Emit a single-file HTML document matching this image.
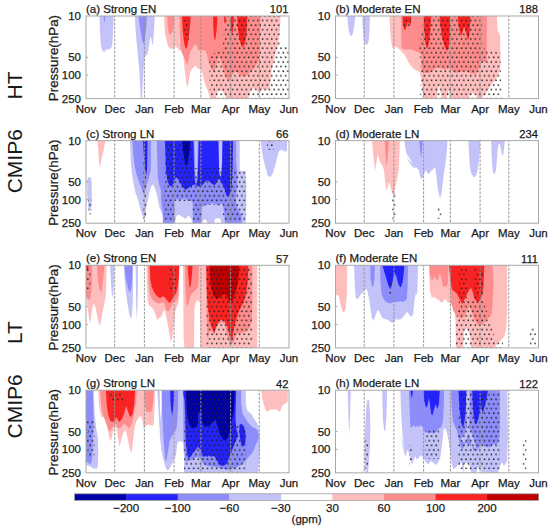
<!DOCTYPE html><html><head><meta charset="utf-8"><style>html,body{margin:0;padding:0;background:#fff;}svg{display:block}</style></head><body>
<svg width="550" height="530" viewBox="0 0 550 530" font-family="Liberation Sans, sans-serif">
<defs>
<clipPath id="cp0"><rect x="86.0" y="16.0" width="203.0" height="82.6"/></clipPath>
<pattern id="dots0" x="88.95" y="14.85" width="4.6" height="9.2" patternUnits="userSpaceOnUse"><circle cx="1.15" cy="1.15" r="0.85" fill="#222"/><circle cx="3.45" cy="5.75" r="0.85" fill="#222"/></pattern>
<clipPath id="cp1"><rect x="335.5" y="16.0" width="203.0" height="82.6"/></clipPath>
<pattern id="dots1" x="338.45" y="14.85" width="4.6" height="9.2" patternUnits="userSpaceOnUse"><circle cx="1.15" cy="1.15" r="0.85" fill="#222"/><circle cx="3.45" cy="5.75" r="0.85" fill="#222"/></pattern>
<clipPath id="cp2"><rect x="86.0" y="140.6" width="203.0" height="82.6"/></clipPath>
<pattern id="dots2" x="88.95" y="139.45" width="4.6" height="9.2" patternUnits="userSpaceOnUse"><circle cx="1.15" cy="1.15" r="0.85" fill="#222"/><circle cx="3.45" cy="5.75" r="0.85" fill="#222"/></pattern>
<clipPath id="cp3"><rect x="335.5" y="140.6" width="203.0" height="82.6"/></clipPath>
<pattern id="dots3" x="338.45" y="139.45" width="4.6" height="9.2" patternUnits="userSpaceOnUse"><circle cx="1.15" cy="1.15" r="0.85" fill="#222"/><circle cx="3.45" cy="5.75" r="0.85" fill="#222"/></pattern>
<clipPath id="cp4"><rect x="86.0" y="265.3" width="203.0" height="82.6"/></clipPath>
<pattern id="dots4" x="88.95" y="264.15" width="4.6" height="9.2" patternUnits="userSpaceOnUse"><circle cx="1.15" cy="1.15" r="0.85" fill="#222"/><circle cx="3.45" cy="5.75" r="0.85" fill="#222"/></pattern>
<clipPath id="cp5"><rect x="335.5" y="265.3" width="203.0" height="82.6"/></clipPath>
<pattern id="dots5" x="338.45" y="264.15" width="4.6" height="9.2" patternUnits="userSpaceOnUse"><circle cx="1.15" cy="1.15" r="0.85" fill="#222"/><circle cx="3.45" cy="5.75" r="0.85" fill="#222"/></pattern>
<clipPath id="cp6"><rect x="86.0" y="390.2" width="203.0" height="82.6"/></clipPath>
<pattern id="dots6" x="88.95" y="389.05" width="4.6" height="9.2" patternUnits="userSpaceOnUse"><circle cx="1.15" cy="1.15" r="0.85" fill="#222"/><circle cx="3.45" cy="5.75" r="0.85" fill="#222"/></pattern>
<clipPath id="cp7"><rect x="335.5" y="390.2" width="203.0" height="82.6"/></clipPath>
<pattern id="dots7" x="338.45" y="389.05" width="4.6" height="9.2" patternUnits="userSpaceOnUse"><circle cx="1.15" cy="1.15" r="0.85" fill="#222"/><circle cx="3.45" cy="5.75" r="0.85" fill="#222"/></pattern>
</defs>
<rect width="550" height="530" fill="#fff"/>
<g clip-path="url(#cp0)">
<path d="M99.4,14.0 L99.4,15.9 L99.9,30.2 L100.6,41.6 L101.5,48.1 L103.1,51.3 L104.3,52.6 L105.1,50.5 L106.7,49.4 L110.0,48.9 L111.6,47.3 L112.4,43.2 L112.9,33.5 L113.5,23.7 L113.7,15.9 L113.7,14.0Z" fill="#c3c3fa"/>
<path d="M103.5,14.0 L104.0,21.3 L104.4,22.4 L104.9,20.5 L105.3,14.0Z" fill="#8c8cfa"/>
<path d="M134.6,14.0 L135.6,30.2 L136.7,43.2 L138.0,56.2 L139.2,69.2 L140.0,82.2 L140.5,91.9 L140.8,101.6 L142.1,101.6 L142.4,90.3 L142.9,78.9 L143.7,67.5 L144.4,57.8 L145.7,55.4 L147.3,54.6 L148.1,51.3 L148.9,46.5 L149.7,40.0 L150.5,36.7 L151.3,38.3 L152.2,44.0 L153.0,44.8 L153.8,33.5 L154.6,20.5 L154.8,14.0Z" fill="#c3c3fa"/>
<path d="M138.4,14.0 L139.5,23.7 L140.8,31.8 L142.1,40.0 L143.2,44.0 L144.4,42.4 L145.3,35.1 L146.2,27.0 L147.0,14.0Z" fill="#8c8cfa"/>
<path d="M164.1,10.0 L280.6,10.0 L280.6,16.0 L279.9,30.2 L278.3,43.2 L276.7,48.9 L274.9,56.2 L273.3,62.7 L271.8,69.2 L270.8,75.7 L270.2,82.2 L269.5,87.9 L267.9,90.3 L264.3,89.0 L261.4,90.3 L259.8,92.7 L257.8,91.0 L255.0,88.5 L252.0,89.0 L249.7,93.0 L248.0,100.0 L226.0,100.0 L225.0,95.0 L222.0,91.0 L219.0,90.4 L217.0,93.0 L216.0,100.0 L211.0,100.0 L209.5,95.8 L207.3,89.3 L205.6,86.0 L204.0,80.5 L202.9,75.1 L201.8,70.7 L200.2,69.6 L197.5,68.5 L195.3,65.3 L193.1,68.0 L191.5,69.6 L190.4,71.8 L189.3,77.3 L188.2,84.9 L187.1,87.1 L186.0,80.5 L184.9,71.8 L183.8,60.9 L182.7,50.0 L179.2,50.5 L177.0,47.3 L175.4,46.5 L173.8,47.3 L172.2,48.9 L169.7,48.4 L167.8,45.6 L166.5,40.0 L165.2,35.1 L164.5,27.0 L164.1,16.0Z" fill="#ffbebe"/>
<path d="M167.3,10.0 L167.3,16.0 L167.6,27.0 L168.9,33.5 L170.1,35.1 L171.4,33.5 L173.0,30.2 L174.0,23.7 L174.3,10.0Z" fill="#ff8c8c"/>
<path d="M179.5,10.0 L261.1,10.0 L260.6,16.0 L260.3,30.2 L259.5,54.6 L260.0,55.0 L259.8,57.5 L258.5,61.4 L256.0,65.2 L253.5,69.0 L250.9,71.5 L248.4,74.1 L245.8,76.0 L243.3,76.6 L240.7,75.4 L238.2,72.8 L235.6,71.5 L233.7,72.8 L231.8,75.4 L230.5,78.5 L228.6,79.8 L226.7,78.5 L224.8,74.1 L222.9,67.7 L221.0,61.4 L219.7,57.5 L218.5,58.8 L217.2,62.6 L215.3,69.0 L213.4,71.5 L211.5,69.0 L208.9,62.6 L207.0,55.0 L205.1,50.0 L199.8,50.5 L198.1,49.7 L197.0,46.5 L195.7,44.0 L194.1,45.6 L191.6,48.9 L190.0,53.0 L188.4,61.1 L187.3,65.1 L186.0,62.7 L184.3,57.8 L181.9,53.0 L180.3,46.5 L179.8,30.2 L179.5,16.0Z" fill="#ff8c8c"/>
<path d="M181.9,10.0 L182.4,27.0 L183.5,38.3 L184.7,45.6 L186.0,48.9 L187.3,46.5 L188.4,40.0 L189.5,30.2 L190.5,20.5 L190.8,10.0Z" fill="#fa2323"/>
<path d="M213.0,10.0 L213.3,27.0 L214.0,36.7 L214.6,40.8 L215.6,38.3 L216.6,30.2 L217.2,22.1 L217.5,10.0Z" fill="#fa2323"/>
<path d="M223.5,10.0 L224.3,22.9 L225.2,23.7 L225.6,20.5 L226.0,10.0Z" fill="#fa2323"/>
<path d="M230.0,10.0 L230.8,27.0 L231.8,35.1 L232.8,31.9 L233.6,23.7 L234.1,10.0Z" fill="#fa2323"/>
<path d="M237.0,10.0 L237.7,27.0 L239.0,36.7 L240.6,43.2 L242.5,47.3 L243.2,47.0 L244.9,43.2 L246.2,36.7 L246.8,27.0 L247.5,10.0Z" fill="#fa2323"/>
<path d="M226.0,16.0 L280.0,16.0 L280.0,45.0 L289.0,45.0 L289.0,99.0 L210.0,99.0 L209.0,55.0 L222.0,50.0Z" fill="url(#dots0)"/>
<path d="M183.0,20.0 L189.0,20.0 L189.0,40.0 L185.0,40.0Z" fill="url(#dots0)"/>
</g>
<line x1="114.7" y1="16.0" x2="114.7" y2="98.6" stroke="#959595" stroke-width="1" stroke-dasharray="2.6,1.4" stroke-dashoffset="1.2"/>
<line x1="144.4" y1="16.0" x2="144.4" y2="98.6" stroke="#959595" stroke-width="1" stroke-dasharray="2.6,1.4" stroke-dashoffset="1.2"/>
<line x1="174.1" y1="16.0" x2="174.1" y2="98.6" stroke="#959595" stroke-width="1" stroke-dasharray="2.6,1.4" stroke-dashoffset="1.2"/>
<line x1="200.9" y1="16.0" x2="200.9" y2="98.6" stroke="#959595" stroke-width="1" stroke-dasharray="2.6,1.4" stroke-dashoffset="1.2"/>
<line x1="230.6" y1="16.0" x2="230.6" y2="98.6" stroke="#959595" stroke-width="1" stroke-dasharray="2.6,1.4" stroke-dashoffset="1.2"/>
<line x1="259.3" y1="16.0" x2="259.3" y2="98.6" stroke="#959595" stroke-width="1" stroke-dasharray="2.6,1.4" stroke-dashoffset="1.2"/>
<rect x="86.0" y="16.0" width="203.0" height="82.6" fill="none" stroke="#a8a8a8" stroke-width="1"/>
<text x="81.0" y="20.1" font-size="11.5" text-anchor="end" fill="#1a1a1a" stroke="#1a1a1a" stroke-width="0.25">10</text>
<text x="81.0" y="61.4" font-size="11.5" text-anchor="end" fill="#1a1a1a" stroke="#1a1a1a" stroke-width="0.25">50</text>
<line x1="86.0" y1="57.3" x2="88.0" y2="57.3" stroke="#a8a8a8"/>
<text x="81.0" y="79.2" font-size="11.5" text-anchor="end" fill="#1a1a1a" stroke="#1a1a1a" stroke-width="0.25">100</text>
<line x1="86.0" y1="75.1" x2="88.0" y2="75.1" stroke="#a8a8a8"/>
<text x="81.0" y="102.7" font-size="11.5" text-anchor="end" fill="#1a1a1a" stroke="#1a1a1a" stroke-width="0.25">250</text>
<text x="86.0" y="112.6" font-size="11.5" text-anchor="middle" fill="#1a1a1a" stroke="#1a1a1a" stroke-width="0.25">Nov</text>
<text x="114.7" y="112.6" font-size="11.5" text-anchor="middle" fill="#1a1a1a" stroke="#1a1a1a" stroke-width="0.25">Dec</text>
<text x="144.4" y="112.6" font-size="11.5" text-anchor="middle" fill="#1a1a1a" stroke="#1a1a1a" stroke-width="0.25">Jan</text>
<text x="174.1" y="112.6" font-size="11.5" text-anchor="middle" fill="#1a1a1a" stroke="#1a1a1a" stroke-width="0.25">Feb</text>
<text x="200.9" y="112.6" font-size="11.5" text-anchor="middle" fill="#1a1a1a" stroke="#1a1a1a" stroke-width="0.25">Mar</text>
<text x="230.6" y="112.6" font-size="11.5" text-anchor="middle" fill="#1a1a1a" stroke="#1a1a1a" stroke-width="0.25">Apr</text>
<text x="259.3" y="112.6" font-size="11.5" text-anchor="middle" fill="#1a1a1a" stroke="#1a1a1a" stroke-width="0.25">May</text>
<text x="289.0" y="112.6" font-size="11.5" text-anchor="middle" fill="#1a1a1a" stroke="#1a1a1a" stroke-width="0.25">Jun</text>
<text x="0" y="0" transform="translate(58.4,58.1) rotate(-90)" font-size="13.4" text-anchor="middle" fill="#1a1a1a" stroke="#1a1a1a" stroke-width="0.25">Pressure(hPa)</text>
<text x="86.0" y="13.0" font-size="11.5" fill="#1a1a1a" stroke="#1a1a1a" stroke-width="0.25">(a) Strong EN</text>
<text x="288.5" y="13.4" font-size="11.2" text-anchor="end" fill="#1a1a1a" stroke="#1a1a1a" stroke-width="0.25">101</text>
<g clip-path="url(#cp1)">
<path d="M347.3,14.0 L347.3,15.9 L347.9,23.7 L348.9,31.8 L350.0,35.1 L351.7,35.9 L352.8,33.5 L353.8,28.6 L354.6,22.1 L355.4,15.9 L355.4,14.0Z" fill="#c3c3fa"/>
<path d="M362.2,14.0 L362.7,27.0 L363.5,36.7 L364.6,43.2 L366.3,44.8 L367.9,44.0 L369.0,38.3 L369.5,28.6 L370.0,14.0Z" fill="#c3c3fa"/>
<path d="M389.0,10.0 L496.8,10.0 L496.8,16.0 L497.6,30.2 L500.0,35.0 L500.5,56.0 L500.7,63.0 L500.0,69.6 L498.0,75.0 L495.4,80.2 L492.7,82.8 L490.0,86.8 L487.5,90.8 L484.8,94.7 L482.2,97.4 L479.0,100.0 L477.0,100.0 L476.0,94.0 L473.0,93.0 L470.0,94.0 L469.0,100.0 L450.2,100.0 L448.5,90.3 L446.0,100.0 L442.0,100.0 L439.2,84.5 L436.3,100.0 L423.6,100.0 L422.6,90.3 L421.5,78.9 L419.9,72.4 L417.5,70.8 L414.2,69.2 L411.0,65.9 L407.7,61.1 L404.5,54.6 L401.2,51.3 L398.0,48.1 L395.5,46.5 L393.9,47.3 L392.3,48.1 L391.2,41.6 L390.2,30.2 L389.5,16.0Z" fill="#ffbebe"/>
<path d="M401.2,10.0 L486.8,10.0 L486.8,16.0 L486.8,61.7 L483.0,62.0 L481.5,61.7 L480.0,64.0 L478.0,72.0 L474.0,74.0 L470.0,73.0 L465.0,71.0 L460.0,72.0 L455.0,73.0 L452.0,71.0 L450.5,68.0 L448.0,69.0 L445.0,69.5 L441.0,68.5 L439.0,67.0 L437.0,68.0 L434.6,69.0 L431.0,72.0 L428.0,73.0 L425.0,73.0 L422.0,71.0 L421.5,68.0 L421.5,54.6 L419.1,53.0 L415.8,51.3 L412.6,49.7 L409.3,48.9 L406.1,49.7 L402.9,48.9 L401.6,48.1 L401.2,38.3Z" fill="#ff8c8c"/>
<path d="M402.0,10.0 L402.9,23.7 L404.2,29.4 L405.3,30.2 L406.4,27.0 L407.7,22.1 L409.0,23.7 L410.2,26.2 L411.0,22.1 L411.8,10.0Z" fill="#fa2323"/>
<path d="M423.6,10.0 L424.3,30.2 L425.3,41.6 L426.4,47.3 L427.2,48.4 L428.5,44.8 L429.6,38.3 L430.5,27.0 L431.3,10.0Z" fill="#fa2323"/>
<path d="M438.9,10.0 L440.5,27.0 L442.2,38.3 L444.6,46.5 L447.0,51.3 L448.7,46.5 L449.5,38.3 L449.8,27.0 L450.3,10.0Z" fill="#fa2323"/>
<path d="M457.3,10.0 L458.4,23.7 L460.0,33.5 L461.2,35.9 L462.5,31.9 L464.1,27.0 L465.4,30.2 L467.0,36.7 L468.3,40.0 L469.4,35.1 L470.2,23.7 L470.6,10.0Z" fill="#fa2323"/>
<path d="M419.0,50.0 L424.0,16.0 L482.0,16.0 L482.0,48.0 L500.0,52.0 L502.0,99.0 L420.0,99.0 L421.0,70.0Z" fill="url(#dots1)"/>
<path d="M403.0,18.0 L411.0,18.0 L411.0,28.0 L403.0,28.0Z" fill="url(#dots1)"/>
</g>
<line x1="364.2" y1="16.0" x2="364.2" y2="98.6" stroke="#959595" stroke-width="1" stroke-dasharray="2.6,1.4" stroke-dashoffset="1.2"/>
<line x1="393.9" y1="16.0" x2="393.9" y2="98.6" stroke="#959595" stroke-width="1" stroke-dasharray="2.6,1.4" stroke-dashoffset="1.2"/>
<line x1="423.6" y1="16.0" x2="423.6" y2="98.6" stroke="#959595" stroke-width="1" stroke-dasharray="2.6,1.4" stroke-dashoffset="1.2"/>
<line x1="450.4" y1="16.0" x2="450.4" y2="98.6" stroke="#959595" stroke-width="1" stroke-dasharray="2.6,1.4" stroke-dashoffset="1.2"/>
<line x1="480.1" y1="16.0" x2="480.1" y2="98.6" stroke="#959595" stroke-width="1" stroke-dasharray="2.6,1.4" stroke-dashoffset="1.2"/>
<line x1="508.8" y1="16.0" x2="508.8" y2="98.6" stroke="#959595" stroke-width="1" stroke-dasharray="2.6,1.4" stroke-dashoffset="1.2"/>
<rect x="335.5" y="16.0" width="203.0" height="82.6" fill="none" stroke="#a8a8a8" stroke-width="1"/>
<text x="330.5" y="20.1" font-size="11.5" text-anchor="end" fill="#1a1a1a" stroke="#1a1a1a" stroke-width="0.25">10</text>
<text x="330.5" y="61.4" font-size="11.5" text-anchor="end" fill="#1a1a1a" stroke="#1a1a1a" stroke-width="0.25">50</text>
<line x1="335.5" y1="57.3" x2="337.5" y2="57.3" stroke="#a8a8a8"/>
<text x="330.5" y="79.2" font-size="11.5" text-anchor="end" fill="#1a1a1a" stroke="#1a1a1a" stroke-width="0.25">100</text>
<line x1="335.5" y1="75.1" x2="337.5" y2="75.1" stroke="#a8a8a8"/>
<text x="330.5" y="102.7" font-size="11.5" text-anchor="end" fill="#1a1a1a" stroke="#1a1a1a" stroke-width="0.25">250</text>
<text x="335.5" y="112.6" font-size="11.5" text-anchor="middle" fill="#1a1a1a" stroke="#1a1a1a" stroke-width="0.25">Nov</text>
<text x="364.2" y="112.6" font-size="11.5" text-anchor="middle" fill="#1a1a1a" stroke="#1a1a1a" stroke-width="0.25">Dec</text>
<text x="393.9" y="112.6" font-size="11.5" text-anchor="middle" fill="#1a1a1a" stroke="#1a1a1a" stroke-width="0.25">Jan</text>
<text x="423.6" y="112.6" font-size="11.5" text-anchor="middle" fill="#1a1a1a" stroke="#1a1a1a" stroke-width="0.25">Feb</text>
<text x="450.4" y="112.6" font-size="11.5" text-anchor="middle" fill="#1a1a1a" stroke="#1a1a1a" stroke-width="0.25">Mar</text>
<text x="480.1" y="112.6" font-size="11.5" text-anchor="middle" fill="#1a1a1a" stroke="#1a1a1a" stroke-width="0.25">Apr</text>
<text x="508.8" y="112.6" font-size="11.5" text-anchor="middle" fill="#1a1a1a" stroke="#1a1a1a" stroke-width="0.25">May</text>
<text x="538.5" y="112.6" font-size="11.5" text-anchor="middle" fill="#1a1a1a" stroke="#1a1a1a" stroke-width="0.25">Jun</text>
<text x="335.5" y="13.0" font-size="11.5" fill="#1a1a1a" stroke="#1a1a1a" stroke-width="0.25">(b) Moderate EN</text>
<text x="538.0" y="13.4" font-size="11.2" text-anchor="end" fill="#1a1a1a" stroke="#1a1a1a" stroke-width="0.25">188</text>
<g clip-path="url(#cp2)">
<path d="M97.3,138.0 L97.3,140.6 L98.3,151.0 L98.9,160.7 L99.7,168.0 L100.6,164.0 L101.8,157.5 L103.5,151.0 L104.8,144.5 L105.4,140.6 L105.4,138.0Z" fill="#ffbebe"/>
<path d="M87.2,180.2 L88.1,177.8 L89.7,176.9 L91.3,178.6 L91.8,186.7 L91.8,199.7 L91.3,207.8 L90.5,211.0 L88.9,211.0 L88.1,206.2 L87.2,194.8Z" fill="#c3c3fa"/>
<path d="M130.0,135.0 L239.5,135.0 L239.5,224.0 L221.5,224.0 L220.5,219.0 L218.5,218.0 L216.0,218.5 L214.6,220.0 L214.0,224.0 L207.5,224.0 L206.5,220.0 L205.0,219.5 L203.0,220.0 L202.3,224.0 L192.0,224.0 L191.5,219.0 L190.0,217.0 L188.5,215.5 L187.0,217.0 L185.0,219.0 L183.0,217.0 L181.0,216.0 L179.0,214.5 L177.5,215.0 L176.0,217.0 L175.0,224.0 L165.0,224.0 L164.9,220.8 L164.1,217.5 L162.5,214.3 L160.8,211.0 L159.2,206.2 L157.6,198.0 L156.0,191.6 L154.3,186.7 L152.7,184.2 L151.1,186.7 L149.5,191.6 L147.9,199.7 L146.2,207.8 L145.4,215.9 L144.6,219.1 L143.0,217.5 L141.4,212.6 L139.7,206.2 L138.1,199.7 L135.7,193.2 L134.1,186.7 L132.4,177.0 L130.8,162.3 L130.0,140.6Z" fill="#c3c3fa"/>
<path d="M239.5,138.0 L239.5,140.6 L239.5,170.5 L242.7,171.3 L245.2,170.5 L246.0,178.6 L246.3,194.8 L246.0,211.0 L245.6,225.6 L236.2,225.6 L236.2,138.0Z" fill="#c3c3fa"/>
<path d="M132.4,138.0 L132.4,140.6 L133.2,154.2 L134.9,167.2 L137.3,176.9 L139.7,183.4 L142.2,189.9 L143.8,194.8 L144.9,191.5 L146.2,186.7 L147.5,181.8 L148.7,178.6 L149.5,175.3 L150.8,170.5 L151.1,140.6 L151.1,138.0Z" fill="#8c8cfa"/>
<path d="M156.8,135.0 L236.2,135.0 L236.2,162.3 L237.0,170.5 L237.5,178.6 L237.0,186.7 L236.2,194.8 L235.9,199.7 L237.0,206.2 L238.7,211.0 L241.1,214.3 L241.9,224.0 L225.0,224.0 L224.5,215.0 L223.0,205.0 L221.2,202.9 L218.8,206.2 L216.4,204.5 L214.0,202.9 L210.7,203.7 L207.5,204.5 L204.2,206.2 L201.8,206.2 L201.0,224.0 L193.0,224.0 L192.7,203.0 L191.2,201.0 L188.0,200.5 L184.7,198.0 L181.5,199.7 L178.7,199.7 L176.0,199.0 L174.5,200.0 L174.0,224.0 L163.0,224.0 L162.5,212.0 L161.0,200.0 L160.8,190.0 L159.2,185.1 L157.9,178.6 L157.3,162.3 L156.8,140.6Z" fill="#8c8cfa"/>
<path d="M143.0,138.0 L143.0,140.6 L143.8,154.2 L144.6,164.0 L145.4,170.5 L146.2,175.3 L146.9,170.5 L147.2,160.7 L147.5,140.6 L147.5,138.0Z" fill="#2323fa"/>
<path d="M164.9,135.0 L233.0,135.0 L233.0,140.6 L232.7,162.3 L232.2,178.6 L231.4,189.9 L229.7,194.0 L228.1,196.4 L226.5,195.6 L224.9,189.9 L223.7,186.7 L222.1,183.4 L220.4,180.2 L218.8,178.6 L217.2,181.8 L214.8,185.1 L212.3,184.2 L209.9,181.8 L207.5,180.2 L205.0,181.8 L202.6,185.1 L200.2,186.7 L197.7,185.9 L195.3,184.2 L192.9,185.1 L190.4,186.7 L188.0,188.3 L185.5,189.9 L183.1,187.5 L180.7,183.4 L178.2,179.4 L177.1,177.0 L175.4,178.6 L173.8,183.4 L171.4,186.7 L169.0,185.1 L167.3,180.2 L166.0,170.5 L165.4,154.2 L164.9,140.6Z" fill="#2323fa"/>
<path d="M182.3,138.0 L182.3,140.6 L183.1,151.0 L184.4,159.1 L185.5,164.0 L186.4,166.4 L187.7,162.3 L188.8,155.8 L189.9,147.7 L190.4,140.6 L190.4,138.0Z" fill="#0000a5"/>
<path d="M193.5,138.0 L193.5,140.6 L193.8,154.2 L194.3,170.5 L194.8,181.0 L196.1,185.1 L197.4,181.0 L198.0,170.5 L198.4,154.2 L198.7,140.6 L198.7,138.0Z" fill="#8c8cfa"/>
<path d="M194.6,138.0 L194.6,140.6 L195.0,154.2 L195.3,170.5 L195.8,178.6 L196.3,180.5 L196.7,178.6 L197.1,170.5 L197.4,154.2 L197.6,140.6 L197.6,138.0Z" fill="#c3c3fa"/>
<path d="M218.5,138.0 L218.5,140.6 L218.8,154.2 L219.1,170.5 L220.1,176.9 L221.2,175.3 L222.1,162.3 L222.4,140.6 L222.4,138.0Z" fill="#c3c3fa"/>
<path d="M260.6,138.0 L260.6,140.6 L261.4,147.7 L263.0,157.5 L265.4,167.2 L267.9,176.1 L270.3,176.9 L272.7,173.7 L275.2,165.6 L277.6,155.8 L279.2,151.0 L281.7,149.4 L284.9,151.8 L286.9,151.0 L287.3,140.6 L287.3,138.0Z" fill="#c3c3fa"/>
<path d="M164.0,186.0 L166.0,141.0 L193.0,141.0 L193.0,168.0 L223.0,168.0 L223.0,141.0 L233.0,141.0 L233.0,170.0 L246.0,170.0 L246.0,222.0 L223.0,222.0 L223.0,205.0 L202.0,205.0 L202.0,222.0 L192.0,222.0 L192.0,201.0 L175.0,201.0 L175.0,222.0 L164.0,222.0Z" fill="url(#dots2)"/>
<path d="M143.0,162.0 L146.5,162.0 L146.5,219.0 L143.0,219.0Z" fill="url(#dots2)"/>
<path d="M267.0,141.0 L274.0,141.0 L274.0,150.0 L267.0,150.0Z" fill="url(#dots2)"/>
<path d="M88.1,198.0 L91.8,198.0 L91.8,214.3 L88.1,214.3Z" fill="url(#dots2)"/>
</g>
<line x1="114.7" y1="140.6" x2="114.7" y2="223.2" stroke="#959595" stroke-width="1" stroke-dasharray="2.6,1.4" stroke-dashoffset="1.2"/>
<line x1="144.4" y1="140.6" x2="144.4" y2="223.2" stroke="#959595" stroke-width="1" stroke-dasharray="2.6,1.4" stroke-dashoffset="1.2"/>
<line x1="174.1" y1="140.6" x2="174.1" y2="223.2" stroke="#959595" stroke-width="1" stroke-dasharray="2.6,1.4" stroke-dashoffset="1.2"/>
<line x1="200.9" y1="140.6" x2="200.9" y2="223.2" stroke="#959595" stroke-width="1" stroke-dasharray="2.6,1.4" stroke-dashoffset="1.2"/>
<line x1="230.6" y1="140.6" x2="230.6" y2="223.2" stroke="#959595" stroke-width="1" stroke-dasharray="2.6,1.4" stroke-dashoffset="1.2"/>
<line x1="259.3" y1="140.6" x2="259.3" y2="223.2" stroke="#959595" stroke-width="1" stroke-dasharray="2.6,1.4" stroke-dashoffset="1.2"/>
<rect x="86.0" y="140.6" width="203.0" height="82.6" fill="none" stroke="#a8a8a8" stroke-width="1"/>
<text x="81.0" y="144.7" font-size="11.5" text-anchor="end" fill="#1a1a1a" stroke="#1a1a1a" stroke-width="0.25">10</text>
<text x="81.0" y="186.0" font-size="11.5" text-anchor="end" fill="#1a1a1a" stroke="#1a1a1a" stroke-width="0.25">50</text>
<line x1="86.0" y1="181.9" x2="88.0" y2="181.9" stroke="#a8a8a8"/>
<text x="81.0" y="203.8" font-size="11.5" text-anchor="end" fill="#1a1a1a" stroke="#1a1a1a" stroke-width="0.25">100</text>
<line x1="86.0" y1="199.7" x2="88.0" y2="199.7" stroke="#a8a8a8"/>
<text x="81.0" y="227.3" font-size="11.5" text-anchor="end" fill="#1a1a1a" stroke="#1a1a1a" stroke-width="0.25">250</text>
<text x="86.0" y="237.2" font-size="11.5" text-anchor="middle" fill="#1a1a1a" stroke="#1a1a1a" stroke-width="0.25">Nov</text>
<text x="114.7" y="237.2" font-size="11.5" text-anchor="middle" fill="#1a1a1a" stroke="#1a1a1a" stroke-width="0.25">Dec</text>
<text x="144.4" y="237.2" font-size="11.5" text-anchor="middle" fill="#1a1a1a" stroke="#1a1a1a" stroke-width="0.25">Jan</text>
<text x="174.1" y="237.2" font-size="11.5" text-anchor="middle" fill="#1a1a1a" stroke="#1a1a1a" stroke-width="0.25">Feb</text>
<text x="200.9" y="237.2" font-size="11.5" text-anchor="middle" fill="#1a1a1a" stroke="#1a1a1a" stroke-width="0.25">Mar</text>
<text x="230.6" y="237.2" font-size="11.5" text-anchor="middle" fill="#1a1a1a" stroke="#1a1a1a" stroke-width="0.25">Apr</text>
<text x="259.3" y="237.2" font-size="11.5" text-anchor="middle" fill="#1a1a1a" stroke="#1a1a1a" stroke-width="0.25">May</text>
<text x="289.0" y="237.2" font-size="11.5" text-anchor="middle" fill="#1a1a1a" stroke="#1a1a1a" stroke-width="0.25">Jun</text>
<text x="0" y="0" transform="translate(58.4,182.7) rotate(-90)" font-size="13.4" text-anchor="middle" fill="#1a1a1a" stroke="#1a1a1a" stroke-width="0.25">Pressure(hPa)</text>
<text x="86.0" y="137.6" font-size="11.5" fill="#1a1a1a" stroke="#1a1a1a" stroke-width="0.25">(c) Strong LN</text>
<text x="288.5" y="138.0" font-size="11.2" text-anchor="end" fill="#1a1a1a" stroke="#1a1a1a" stroke-width="0.25">66</text>
<g clip-path="url(#cp3)">
<path d="M371.9,138.0 L371.9,140.6 L373.2,154.2 L374.4,165.6 L375.2,170.5 L376.0,165.6 L377.6,154.2 L379.2,159.1 L380.9,164.0 L382.5,165.6 L384.1,170.5 L384.9,180.2 L386.2,189.9 L387.4,188.3 L389.0,181.8 L390.6,186.7 L392.2,193.2 L393.4,196.4 L394.3,193.2 L395.5,186.7 L397.1,178.6 L398.7,170.5 L399.5,154.2 L399.9,140.6 L399.9,138.0Z" fill="#ffbebe"/>
<path d="M384.6,138.0 L384.6,140.6 L385.3,151.0 L385.9,160.7 L386.5,166.4 L387.4,160.7 L388.2,151.0 L389.0,140.6 L389.0,138.0Z" fill="#ff8c8c"/>
<path d="M404.4,138.0 L404.4,140.6 L405.2,147.7 L406.8,154.2 L409.3,157.5 L411.7,162.3 L413.0,164.8 L406.6,157.5 L409.1,162.3 L411.5,165.6 L413.9,168.0 L416.4,167.2 L418.8,170.5 L420.4,176.9 L421.6,179.4 L422.8,176.9 L424.1,173.7 L425.3,170.5 L426.9,172.1 L428.5,174.5 L430.2,172.1 L431.8,170.5 L433.4,168.8 L435.0,167.2 L436.2,173.7 L437.1,183.4 L438.3,191.5 L439.4,196.4 L440.4,198.0 L441.5,193.2 L442.6,183.4 L443.9,173.7 L445.6,162.3 L446.9,151.0 L447.5,140.6 L447.5,138.0Z" fill="#c3c3fa"/>
<path d="M419.3,138.0 L419.3,140.6 L419.9,147.7 L420.6,154.2 L421.2,157.5 L421.9,152.6 L422.5,140.6 L422.5,138.0Z" fill="#8c8cfa"/>
<path d="M468.3,138.0 L468.3,140.6 L469.1,154.2 L469.9,167.2 L471.5,173.7 L474.0,176.9 L475.6,176.1 L477.2,172.1 L478.8,162.3 L479.6,151.0 L480.1,140.6 L480.5,138.0Z" fill="#c3c3fa"/>
<path d="M480.1,138.0 L480.1,140.6 L473.2,138.0 L473.2,140.6Z" fill="#c3c3fa"/>
<path d="M470.0,138.0 L470.0,140.6 L470.0,162.3 L471.6,173.7 L474.1,177.8 L476.5,173.7 L478.4,162.3 L479.4,151.0 L479.7,140.6 L479.7,138.0Z" fill="#c3c3fa"/>
<path d="M491.1,138.0 L491.1,140.6 L491.6,154.2 L492.4,167.2 L493.2,172.9 L494.7,173.7 L496.0,170.5 L496.8,160.7 L497.9,147.7 L498.9,142.9 L500.0,144.5 L501.2,151.0 L502.1,155.8 L503.3,154.2 L504.1,147.7 L504.9,140.6 L504.9,138.0Z" fill="#c3c3fa"/>
<path d="M392.2,191.6 L395.5,191.6 L395.5,219.0 L392.2,219.0Z" fill="url(#dots3)"/>
<path d="M437.5,208.0 L441.5,208.0 L441.5,219.0 L437.5,219.0Z" fill="url(#dots3)"/>
</g>
<line x1="364.2" y1="140.6" x2="364.2" y2="223.2" stroke="#959595" stroke-width="1" stroke-dasharray="2.6,1.4" stroke-dashoffset="1.2"/>
<line x1="393.9" y1="140.6" x2="393.9" y2="223.2" stroke="#959595" stroke-width="1" stroke-dasharray="2.6,1.4" stroke-dashoffset="1.2"/>
<line x1="423.6" y1="140.6" x2="423.6" y2="223.2" stroke="#959595" stroke-width="1" stroke-dasharray="2.6,1.4" stroke-dashoffset="1.2"/>
<line x1="450.4" y1="140.6" x2="450.4" y2="223.2" stroke="#959595" stroke-width="1" stroke-dasharray="2.6,1.4" stroke-dashoffset="1.2"/>
<line x1="480.1" y1="140.6" x2="480.1" y2="223.2" stroke="#959595" stroke-width="1" stroke-dasharray="2.6,1.4" stroke-dashoffset="1.2"/>
<line x1="508.8" y1="140.6" x2="508.8" y2="223.2" stroke="#959595" stroke-width="1" stroke-dasharray="2.6,1.4" stroke-dashoffset="1.2"/>
<rect x="335.5" y="140.6" width="203.0" height="82.6" fill="none" stroke="#a8a8a8" stroke-width="1"/>
<text x="330.5" y="144.7" font-size="11.5" text-anchor="end" fill="#1a1a1a" stroke="#1a1a1a" stroke-width="0.25">10</text>
<text x="330.5" y="186.0" font-size="11.5" text-anchor="end" fill="#1a1a1a" stroke="#1a1a1a" stroke-width="0.25">50</text>
<line x1="335.5" y1="181.9" x2="337.5" y2="181.9" stroke="#a8a8a8"/>
<text x="330.5" y="203.8" font-size="11.5" text-anchor="end" fill="#1a1a1a" stroke="#1a1a1a" stroke-width="0.25">100</text>
<line x1="335.5" y1="199.7" x2="337.5" y2="199.7" stroke="#a8a8a8"/>
<text x="330.5" y="227.3" font-size="11.5" text-anchor="end" fill="#1a1a1a" stroke="#1a1a1a" stroke-width="0.25">250</text>
<text x="335.5" y="237.2" font-size="11.5" text-anchor="middle" fill="#1a1a1a" stroke="#1a1a1a" stroke-width="0.25">Nov</text>
<text x="364.2" y="237.2" font-size="11.5" text-anchor="middle" fill="#1a1a1a" stroke="#1a1a1a" stroke-width="0.25">Dec</text>
<text x="393.9" y="237.2" font-size="11.5" text-anchor="middle" fill="#1a1a1a" stroke="#1a1a1a" stroke-width="0.25">Jan</text>
<text x="423.6" y="237.2" font-size="11.5" text-anchor="middle" fill="#1a1a1a" stroke="#1a1a1a" stroke-width="0.25">Feb</text>
<text x="450.4" y="237.2" font-size="11.5" text-anchor="middle" fill="#1a1a1a" stroke="#1a1a1a" stroke-width="0.25">Mar</text>
<text x="480.1" y="237.2" font-size="11.5" text-anchor="middle" fill="#1a1a1a" stroke="#1a1a1a" stroke-width="0.25">Apr</text>
<text x="508.8" y="237.2" font-size="11.5" text-anchor="middle" fill="#1a1a1a" stroke="#1a1a1a" stroke-width="0.25">May</text>
<text x="538.5" y="237.2" font-size="11.5" text-anchor="middle" fill="#1a1a1a" stroke="#1a1a1a" stroke-width="0.25">Jun</text>
<text x="335.5" y="137.6" font-size="11.5" fill="#1a1a1a" stroke="#1a1a1a" stroke-width="0.25">(d) Moderate LN</text>
<text x="538.0" y="138.0" font-size="11.2" text-anchor="end" fill="#1a1a1a" stroke="#1a1a1a" stroke-width="0.25">234</text>
<g clip-path="url(#cp4)">
<path d="M85.9,263.0 L85.9,265.3 L86.4,295.5 L88.1,311.7 L89.7,323.0 L90.8,319.8 L92.1,310.1 L93.7,303.6 L95.4,306.8 L97.0,314.9 L98.6,323.0 L99.9,325.5 L101.0,321.4 L102.7,311.7 L104.3,303.6 L105.9,295.5 L106.7,265.3 L106.7,263.0Z" fill="#ffbebe"/>
<path d="M84.0,263.0 L84.0,293.8 L87.2,297.9 L88.9,300.3 L90.5,297.9 L91.8,287.3 L92.1,263.0Z" fill="#ff8c8c"/>
<path d="M97.0,263.0 L97.0,265.3 L97.8,279.2 L99.4,289.0 L101.0,293.0 L102.2,287.3 L103.5,276.0 L104.3,265.3 L104.3,263.0Z" fill="#ff8c8c"/>
<path d="M84.0,263.0 L84.0,269.5 L88.1,270.3 L88.9,263.0Z" fill="#fa2323"/>
<path d="M110.0,263.0 L110.0,265.3 L110.8,279.2 L111.6,292.2 L112.6,297.9 L113.5,292.2 L114.0,279.2 L114.5,265.3 L114.5,263.0Z" fill="#c3c3fa"/>
<path d="M123.8,263.0 L123.8,265.3 L124.6,279.2 L125.9,292.2 L127.5,303.6 L129.1,313.3 L130.7,319.0 L131.9,314.9 L132.7,303.6 L133.0,287.3 L132.7,265.3 L132.7,263.0Z" fill="#c3c3fa"/>
<path d="M124.6,263.0 L124.6,265.3 L125.4,276.0 L127.0,284.1 L128.6,290.6 L130.2,292.2 L131.4,287.3 L132.4,276.0 L132.7,265.3 L132.7,263.0Z" fill="#8c8cfa"/>
<path d="M135.6,263.0 L135.6,265.3 L135.9,287.3 L136.3,308.4 L136.7,319.8 L137.5,308.4 L137.9,287.3 L138.0,265.3 L138.0,263.0Z" fill="#c3c3fa"/>
<path d="M146.5,260.0 L179.5,260.0 L179.5,265.3 L179.2,295.5 L178.4,303.6 L176.8,306.8 L175.2,311.7 L174.0,324.7 L173.0,331.2 L171.9,339.3 L170.8,342.5 L169.5,334.4 L167.9,324.7 L166.2,316.6 L164.6,310.1 L163.0,311.7 L161.4,316.6 L158.9,318.2 L157.3,319.8 L155.7,315.0 L153.8,310.1 L151.3,306.8 L148.9,305.2 L147.6,300.3 L147.0,287.3 L146.5,265.3Z" fill="#ffbebe"/>
<path d="M148.1,260.0 L179.2,260.0 L179.2,265.3 L178.4,295.5 L176.8,300.3 L174.3,302.0 L172.7,303.6 L171.1,306.8 L169.5,310.1 L167.9,311.7 L166.2,310.1 L164.0,302.0 L161.9,302.8 L158.6,303.6 L155.4,302.0 L152.2,299.5 L149.7,293.8 L148.6,284.1 L148.1,265.3Z" fill="#ff8c8c"/>
<path d="M149.7,260.0 L179.2,260.0 L179.2,265.3 L178.9,276.0 L177.6,287.3 L176.0,293.8 L174.3,295.5 L172.7,297.9 L170.8,302.0 L169.1,302.8 L167.0,300.3 L164.6,297.1 L162.7,296.3 L160.3,297.9 L157.8,297.1 L154.6,293.0 L151.8,287.3 L150.2,279.2 L149.7,265.3Z" fill="#fa2323"/>
<path d="M183.0,260.0 L257.3,260.0 L257.3,350.0 L200.2,350.0 L200.0,303.0 L198.0,300.0 L195.5,303.0 L194.4,310.0 L194.0,350.0 L184.5,350.0 L183.6,336.0 L183.3,295.0 L183.0,265.0Z" fill="#ffbebe"/>
<path d="M184.9,263.0 L184.9,265.3 L185.4,287.3 L186.0,300.3 L187.0,306.8 L188.6,303.6 L190.6,295.5 L193.0,292.2 L195.4,290.6 L197.9,287.3 L198.7,279.2 L199.0,265.3 L199.0,263.0Z" fill="#ff8c8c"/>
<path d="M206.5,260.0 L252.3,260.0 L252.3,300.0 L252.0,320.0 L250.0,328.0 L246.0,332.0 L241.0,333.0 L236.6,334.0 L233.0,343.0 L231.0,345.0 L229.0,341.0 L226.9,334.0 L224.5,324.0 L222.0,322.0 L219.6,323.0 L217.2,326.0 L215.6,331.0 L213.9,336.0 L212.3,332.0 L210.0,330.0 L208.5,335.0 L207.5,340.0 L206.5,320.0Z" fill="#ff8c8c"/>
<path d="M187.6,263.0 L187.6,265.3 L188.3,276.0 L189.3,285.7 L189.9,288.2 L190.9,284.1 L191.9,276.0 L192.5,265.3 L192.5,263.0Z" fill="#fa2323"/>
<path d="M206.0,260.0 L248.4,260.0 L248.3,266.0 L248.0,279.2 L246.4,292.2 L243.9,301.9 L241.5,306.0 L239.1,311.0 L236.6,318.0 L234.2,327.0 L232.6,337.6 L231.0,341.0 L229.9,336.4 L227.6,327.1 L224.5,320.9 L221.4,319.4 L218.3,322.5 L216.0,327.1 L214.4,333.3 L212.1,328.6 L209.8,320.9 L207.5,305.5 L206.7,290.0Z" fill="#fa2323"/>
<path d="M209.7,260.0 L239.3,260.0 L239.3,265.3 L239.0,272.7 L237.7,282.5 L236.1,290.6 L234.5,295.5 L232.9,300.3 L231.2,302.8 L229.6,302.0 L227.2,297.1 L224.7,293.8 L222.3,295.5 L219.9,297.1 L217.4,299.5 L215.7,297.9 L213.3,295.5 L211.3,289.0 L210.0,279.2 L209.7,265.3Z" fill="#be0000"/>
<path d="M206.0,268.0 L252.0,268.0 L252.0,348.0 L206.0,348.0Z" fill="url(#dots4)"/>
<path d="M86.4,267.9 L90.5,267.9 L90.5,289.8 L86.4,289.8Z" fill="url(#dots4)"/>
<path d="M168.7,266.2 L176.0,266.2 L176.0,289.8 L168.7,289.8Z" fill="url(#dots4)"/>
</g>
<line x1="114.7" y1="265.3" x2="114.7" y2="347.9" stroke="#959595" stroke-width="1" stroke-dasharray="2.6,1.4" stroke-dashoffset="1.2"/>
<line x1="144.4" y1="265.3" x2="144.4" y2="347.9" stroke="#959595" stroke-width="1" stroke-dasharray="2.6,1.4" stroke-dashoffset="1.2"/>
<line x1="174.1" y1="265.3" x2="174.1" y2="347.9" stroke="#959595" stroke-width="1" stroke-dasharray="2.6,1.4" stroke-dashoffset="1.2"/>
<line x1="200.9" y1="265.3" x2="200.9" y2="347.9" stroke="#959595" stroke-width="1" stroke-dasharray="2.6,1.4" stroke-dashoffset="1.2"/>
<line x1="230.6" y1="265.3" x2="230.6" y2="347.9" stroke="#959595" stroke-width="1" stroke-dasharray="2.6,1.4" stroke-dashoffset="1.2"/>
<line x1="259.3" y1="265.3" x2="259.3" y2="347.9" stroke="#959595" stroke-width="1" stroke-dasharray="2.6,1.4" stroke-dashoffset="1.2"/>
<rect x="86.0" y="265.3" width="203.0" height="82.6" fill="none" stroke="#a8a8a8" stroke-width="1"/>
<text x="81.0" y="269.4" font-size="11.5" text-anchor="end" fill="#1a1a1a" stroke="#1a1a1a" stroke-width="0.25">10</text>
<text x="81.0" y="310.7" font-size="11.5" text-anchor="end" fill="#1a1a1a" stroke="#1a1a1a" stroke-width="0.25">50</text>
<line x1="86.0" y1="306.6" x2="88.0" y2="306.6" stroke="#a8a8a8"/>
<text x="81.0" y="328.5" font-size="11.5" text-anchor="end" fill="#1a1a1a" stroke="#1a1a1a" stroke-width="0.25">100</text>
<line x1="86.0" y1="324.4" x2="88.0" y2="324.4" stroke="#a8a8a8"/>
<text x="81.0" y="352.0" font-size="11.5" text-anchor="end" fill="#1a1a1a" stroke="#1a1a1a" stroke-width="0.25">250</text>
<text x="86.0" y="361.9" font-size="11.5" text-anchor="middle" fill="#1a1a1a" stroke="#1a1a1a" stroke-width="0.25">Nov</text>
<text x="114.7" y="361.9" font-size="11.5" text-anchor="middle" fill="#1a1a1a" stroke="#1a1a1a" stroke-width="0.25">Dec</text>
<text x="144.4" y="361.9" font-size="11.5" text-anchor="middle" fill="#1a1a1a" stroke="#1a1a1a" stroke-width="0.25">Jan</text>
<text x="174.1" y="361.9" font-size="11.5" text-anchor="middle" fill="#1a1a1a" stroke="#1a1a1a" stroke-width="0.25">Feb</text>
<text x="200.9" y="361.9" font-size="11.5" text-anchor="middle" fill="#1a1a1a" stroke="#1a1a1a" stroke-width="0.25">Mar</text>
<text x="230.6" y="361.9" font-size="11.5" text-anchor="middle" fill="#1a1a1a" stroke="#1a1a1a" stroke-width="0.25">Apr</text>
<text x="259.3" y="361.9" font-size="11.5" text-anchor="middle" fill="#1a1a1a" stroke="#1a1a1a" stroke-width="0.25">May</text>
<text x="289.0" y="361.9" font-size="11.5" text-anchor="middle" fill="#1a1a1a" stroke="#1a1a1a" stroke-width="0.25">Jun</text>
<text x="0" y="0" transform="translate(58.4,307.4) rotate(-90)" font-size="13.4" text-anchor="middle" fill="#1a1a1a" stroke="#1a1a1a" stroke-width="0.25">Pressure(hPa)</text>
<text x="86.0" y="262.3" font-size="11.5" fill="#1a1a1a" stroke="#1a1a1a" stroke-width="0.25">(e) Strong EN</text>
<text x="288.5" y="262.7" font-size="11.2" text-anchor="end" fill="#1a1a1a" stroke="#1a1a1a" stroke-width="0.25">57</text>
<g clip-path="url(#cp5)">
<path d="M335.4,263.0 L335.4,265.3 L335.4,297.1 L337.1,294.6 L338.7,295.5 L340.3,303.6 L341.9,310.1 L343.1,312.5 L344.4,311.7 L345.7,308.4 L346.8,295.5 L347.3,265.3 L347.3,263.0Z" fill="#ffbebe"/>
<path d="M354.1,263.0 L354.1,265.3 L354.9,287.3 L355.7,297.1 L357.0,299.5 L358.6,297.9 L360.6,294.6 L363.0,292.2 L365.5,289.0 L367.1,289.8 L368.7,297.1 L370.3,306.8 L371.9,318.2 L373.6,320.6 L375.2,316.5 L376.8,311.7 L378.4,310.1 L380.1,313.3 L382.5,318.2 L384.9,319.0 L387.4,319.8 L389.8,321.4 L392.2,323.0 L394.3,321.4 L396.3,319.0 L398.7,319.8 L401.2,319.0 L403.6,316.5 L406.0,313.3 L407.6,311.7 L409.3,314.9 L410.9,316.5 L413.0,314.9 L414.7,298.7 L416.0,292.2 L417.2,295.5 L417.7,279.2 L418.0,265.3 L418.0,263.0Z" fill="#c3c3fa"/>
<path d="M370.3,263.0 L370.3,265.3 L370.6,279.2 L371.9,285.7 L373.2,287.3 L374.4,279.2 L374.9,265.3 L374.9,263.0Z" fill="#8c8cfa"/>
<path d="M380.1,263.0 L380.1,265.3 L380.4,279.2 L381.0,289.0 L382.0,295.5 L383.6,298.7 L385.7,301.9 L388.2,302.8 L390.6,303.6 L393.0,301.9 L395.5,301.9 L397.9,301.9 L400.3,301.1 L402.8,301.9 L405.2,301.1 L406.8,298.7 L407.6,287.3 L408.0,265.3 L408.0,263.0Z" fill="#8c8cfa"/>
<path d="M382.5,263.0 L382.5,265.3 L384.1,271.1 L386.5,279.2 L388.5,285.7 L390.1,289.0 L391.7,285.7 L393.4,277.6 L394.7,272.7 L396.3,276.0 L397.9,282.5 L399.5,286.5 L400.8,287.3 L402.5,282.5 L403.6,274.4 L404.4,265.3 L404.4,263.0Z" fill="#2323fa"/>
<path d="M429.0,263.0 L452.1,263.0 L507.1,263.0 L507.1,265.3 L507.1,279.2 L507.4,295.5 L507.1,311.7 L506.2,327.9 L504.6,336.0 L502.5,338.5 L500.6,340.1 L498.9,342.5 L497.3,344.1 L495.7,345.8 L494.1,350.6 L471.0,350.0 L470.0,335.0 L467.0,328.0 L464.0,331.0 L463.0,350.0 L456.0,350.0 L455.5,320.0 L454.0,306.0 L452.0,304.0 L450.4,305.0 L449.6,301.9 L448.0,302.8 L446.4,300.3 L444.8,298.7 L443.1,301.9 L441.5,302.8 L439.1,300.3 L436.6,298.7 L434.2,297.1 L431.8,297.9 L430.2,292.2 L429.3,279.2 L429.0,265.3Z" fill="#ffbebe"/>
<path d="M429.3,263.0 L429.3,265.3 L430.2,276.0 L431.8,280.8 L433.4,278.4 L435.0,276.0 L436.6,280.8 L438.3,279.2 L439.9,272.7 L441.5,279.2 L443.1,287.3 L444.8,285.7 L446.4,287.3 L448.0,282.5 L448.5,265.3 L448.5,263.0Z" fill="#ff8c8c"/>
<path d="M449.6,260.0 L492.5,260.0 L492.5,265.3 L493.3,287.3 L492.5,303.6 L491.6,315.0 L490.0,316.6 L487.6,318.2 L485.2,321.4 L482.7,324.7 L479.5,326.3 L476.2,323.0 L473.8,318.2 L471.4,311.7 L469.7,306.8 L468.1,308.4 L466.5,311.7 L464.1,316.6 L461.6,319.0 L460.2,318.2 L456.9,315.0 L453.7,311.7 L451.3,303.6 L450.4,290.6 L449.6,265.3Z" fill="#ff8c8c"/>
<path d="M448.8,260.0 L484.3,260.0 L484.3,265.3 L483.5,287.3 L481.9,295.5 L480.3,300.3 L477.9,302.0 L475.4,300.3 L473.8,297.1 L472.7,292.2 L471.4,288.2 L469.7,289.0 L467.3,293.8 L464.9,298.7 L462.4,303.6 L461.8,303.6 L459.4,298.7 L456.9,293.8 L454.5,291.4 L452.1,289.8 L450.4,279.2 L448.8,265.3Z" fill="#fa2323"/>
<path d="M459.0,266.0 L467.0,266.0 L467.0,300.0 L474.0,300.0 L474.0,266.0 L483.0,266.0 L483.0,300.0 L490.0,320.0 L495.0,340.0 L503.0,340.0 L503.0,348.0 L456.0,348.0 L456.0,320.0 L459.0,300.0Z" fill="url(#dots5)"/>
<path d="M389.0,274.0 L391.6,274.0 L391.6,294.0 L389.0,294.0Z" fill="url(#dots5)"/>
<path d="M530.0,328.0 L536.0,328.0 L536.0,346.0 L530.0,346.0Z" fill="url(#dots5)"/>
</g>
<line x1="364.2" y1="265.3" x2="364.2" y2="347.9" stroke="#959595" stroke-width="1" stroke-dasharray="2.6,1.4" stroke-dashoffset="1.2"/>
<line x1="393.9" y1="265.3" x2="393.9" y2="347.9" stroke="#959595" stroke-width="1" stroke-dasharray="2.6,1.4" stroke-dashoffset="1.2"/>
<line x1="423.6" y1="265.3" x2="423.6" y2="347.9" stroke="#959595" stroke-width="1" stroke-dasharray="2.6,1.4" stroke-dashoffset="1.2"/>
<line x1="450.4" y1="265.3" x2="450.4" y2="347.9" stroke="#959595" stroke-width="1" stroke-dasharray="2.6,1.4" stroke-dashoffset="1.2"/>
<line x1="480.1" y1="265.3" x2="480.1" y2="347.9" stroke="#959595" stroke-width="1" stroke-dasharray="2.6,1.4" stroke-dashoffset="1.2"/>
<line x1="508.8" y1="265.3" x2="508.8" y2="347.9" stroke="#959595" stroke-width="1" stroke-dasharray="2.6,1.4" stroke-dashoffset="1.2"/>
<rect x="335.5" y="265.3" width="203.0" height="82.6" fill="none" stroke="#a8a8a8" stroke-width="1"/>
<text x="330.5" y="269.4" font-size="11.5" text-anchor="end" fill="#1a1a1a" stroke="#1a1a1a" stroke-width="0.25">10</text>
<text x="330.5" y="310.7" font-size="11.5" text-anchor="end" fill="#1a1a1a" stroke="#1a1a1a" stroke-width="0.25">50</text>
<line x1="335.5" y1="306.6" x2="337.5" y2="306.6" stroke="#a8a8a8"/>
<text x="330.5" y="328.5" font-size="11.5" text-anchor="end" fill="#1a1a1a" stroke="#1a1a1a" stroke-width="0.25">100</text>
<line x1="335.5" y1="324.4" x2="337.5" y2="324.4" stroke="#a8a8a8"/>
<text x="330.5" y="352.0" font-size="11.5" text-anchor="end" fill="#1a1a1a" stroke="#1a1a1a" stroke-width="0.25">250</text>
<text x="335.5" y="361.9" font-size="11.5" text-anchor="middle" fill="#1a1a1a" stroke="#1a1a1a" stroke-width="0.25">Nov</text>
<text x="364.2" y="361.9" font-size="11.5" text-anchor="middle" fill="#1a1a1a" stroke="#1a1a1a" stroke-width="0.25">Dec</text>
<text x="393.9" y="361.9" font-size="11.5" text-anchor="middle" fill="#1a1a1a" stroke="#1a1a1a" stroke-width="0.25">Jan</text>
<text x="423.6" y="361.9" font-size="11.5" text-anchor="middle" fill="#1a1a1a" stroke="#1a1a1a" stroke-width="0.25">Feb</text>
<text x="450.4" y="361.9" font-size="11.5" text-anchor="middle" fill="#1a1a1a" stroke="#1a1a1a" stroke-width="0.25">Mar</text>
<text x="480.1" y="361.9" font-size="11.5" text-anchor="middle" fill="#1a1a1a" stroke="#1a1a1a" stroke-width="0.25">Apr</text>
<text x="508.8" y="361.9" font-size="11.5" text-anchor="middle" fill="#1a1a1a" stroke="#1a1a1a" stroke-width="0.25">May</text>
<text x="538.5" y="361.9" font-size="11.5" text-anchor="middle" fill="#1a1a1a" stroke="#1a1a1a" stroke-width="0.25">Jun</text>
<text x="335.5" y="262.3" font-size="11.5" fill="#1a1a1a" stroke="#1a1a1a" stroke-width="0.25">(f) Moderate EN</text>
<text x="538.0" y="262.7" font-size="11.2" text-anchor="end" fill="#1a1a1a" stroke="#1a1a1a" stroke-width="0.25">111</text>
<g clip-path="url(#cp6)">
<path d="M84.0,388.0 L93.7,388.0 L93.7,390.1 L94.5,412.3 L96.2,428.6 L97.8,436.7 L98.3,452.9 L97.8,465.9 L97.0,469.1 L95.4,468.3 L93.7,469.1 L92.1,467.5 L88.9,465.9 L84.0,464.3Z" fill="#c3c3fa"/>
<path d="M84.0,388.0 L92.9,388.0 L92.9,390.1 L93.4,412.3 L93.7,426.9 L92.9,436.7 L92.4,452.9 L91.8,461.0 L90.5,464.3 L88.1,462.6 L84.0,461.0Z" fill="#8c8cfa"/>
<path d="M98.3,388.0 L98.3,390.1 L98.9,404.2 L100.2,412.3 L101.8,417.2 L104.3,417.2 L106.7,425.3 L109.2,436.7 L110.3,441.5 L111.6,438.3 L112.9,431.8 L114.8,426.9 L116.5,428.6 L118.1,438.3 L119.4,446.4 L120.5,443.2 L122.1,436.7 L123.8,431.8 L125.4,430.2 L127.0,435.1 L128.6,443.2 L130.2,449.7 L131.4,452.9 L132.4,448.0 L133.5,436.7 L135.1,425.3 L136.7,420.5 L139.2,417.2 L140.8,415.6 L142.4,420.5 L143.7,428.6 L144.9,426.9 L146.5,425.3 L148.1,424.5 L150.5,425.3 L152.2,426.1 L153.8,423.7 L154.6,404.2 L155.1,390.1 L155.1,388.0Z" fill="#ffbebe"/>
<path d="M100.2,388.0 L100.2,390.1 L101.0,404.2 L102.7,414.0 L105.1,420.5 L107.5,426.9 L110.0,431.8 L111.6,428.6 L114.0,425.3 L115.6,423.7 L117.3,426.9 L118.9,428.6 L121.3,426.9 L123.8,423.7 L126.2,425.3 L128.6,428.6 L131.1,425.3 L132.7,420.5 L134.3,412.3 L135.9,404.2 L136.7,390.1 L136.7,388.0Z" fill="#ff8c8c"/>
<path d="M144.0,388.0 L144.0,390.1 L144.9,404.2 L146.5,412.3 L148.9,411.5 L151.3,412.3 L153.0,404.2 L153.8,390.1 L153.8,388.0Z" fill="#ff8c8c"/>
<path d="M105.9,388.0 L105.9,390.1 L106.7,404.2 L108.0,414.0 L110.0,420.5 L112.4,422.1 L114.8,420.5 L116.5,417.2 L118.1,420.5 L119.7,422.1 L122.1,418.8 L124.6,412.3 L126.2,405.8 L127.8,410.7 L129.4,415.6 L131.1,417.2 L132.7,414.0 L134.3,404.2 L135.1,390.1 L135.1,388.0Z" fill="#fa2323"/>
<path d="M157.3,385.0 L183.5,385.0 L183.5,441.4 L178.0,441.4 L177.0,445.0 L176.0,455.0 L174.3,459.0 L172.7,462.5 L171.0,465.5 L169.4,469.0 L167.8,470.6 L166.2,469.0 L164.6,464.0 L163.0,458.0 L161.3,449.5 L160.0,437.0 L159.0,420.0 L157.3,390.0Z" fill="#c3c3fa"/>
<path d="M159.7,385.0 L161.7,385.0 L161.5,410.0 L160.8,420.4 L160.0,410.0Z" fill="#ffffff"/>
<path d="M161.7,385.0 L178.3,385.0 L178.0,410.0 L177.0,425.0 L176.0,430.0 L174.5,432.0 L172.0,436.0 L170.0,440.0 L168.5,448.0 L167.0,458.0 L166.0,462.0 L165.0,458.0 L164.0,445.0 L163.0,430.0 L162.0,410.0Z" fill="#8c8cfa"/>
<path d="M170.2,385.0 L174.3,385.0 L174.0,400.0 L173.0,410.0 L172.2,415.5 L171.2,410.0 L170.4,400.0Z" fill="#2323fa"/>
<path d="M183.3,385.0 L245.8,385.0 L245.8,404.2 L247.5,410.7 L249.1,412.3 L251.5,414.0 L254.0,418.8 L256.4,422.1 L258.5,425.3 L259.6,433.4 L260.1,444.8 L259.6,456.2 L258.8,464.3 L258.0,475.0 L184.0,475.0 L184.0,455.0 L183.3,450.0Z" fill="#c3c3fa"/>
<path d="M183.3,385.0 L241.0,385.0 L241.0,390.1 L241.3,404.2 L242.6,414.0 L245.8,418.8 L249.1,423.7 L252.3,427.0 L255.6,428.6 L258.0,431.0 L258.8,436.7 L257.5,441.6 L255.6,444.8 L254.0,449.7 L252.3,452.9 L249.1,456.2 L246.6,459.4 L244.2,462.6 L241.0,465.1 L237.7,466.7 L234.5,468.3 L231.2,469.1 L228.0,470.0 L224.0,469.0 L220.0,468.0 L216.0,467.0 L212.0,466.5 L208.0,466.0 L204.0,465.0 L202.0,462.0 L200.0,458.0 L197.0,457.0 L194.0,458.5 L191.0,460.0 L188.5,461.0 L186.0,462.0 L185.0,458.0 L184.5,450.0 L183.3,440.0Z" fill="#8c8cfa"/>
<path d="M183.3,385.0 L236.1,385.0 L236.1,390.1 L235.8,404.2 L235.5,420.0 L236.5,430.0 L237.9,434.1 L236.0,440.5 L233.5,446.8 L230.9,453.2 L229.0,458.3 L227.1,463.4 L224.5,465.3 L222.0,465.9 L219.5,464.6 L216.9,460.8 L215.0,457.0 L213.1,455.7 L211.2,457.0 L209.3,455.1 L207.4,457.0 L205.5,455.7 L204.2,457.0 L202.3,455.7 L200.4,449.4 L197.8,446.8 L195.3,450.6 L192.7,453.2 L190.2,457.0 L188.3,458.3 L187.0,453.2 L185.7,440.5 L185.1,415.0 L184.5,400.0 L183.3,395.0Z" fill="#2323fa"/>
<path d="M186.0,385.0 L235.1,385.0 L235.0,390.0 L234.0,409.8 L231.8,420.7 L229.6,431.6 L227.5,438.2 L225.3,440.4 L223.1,439.3 L219.8,433.8 L217.6,426.2 L215.5,419.6 L214.4,420.7 L212.2,422.9 L208.9,426.2 L204.5,426.2 L201.3,421.5 L199.1,422.9 L195.8,427.3 L192.5,428.4 L189.3,425.1 L187.1,414.2 L186.0,395.0Z" fill="#0000a5"/>
<path d="M198.0,412.0 L201.5,412.0 L201.6,430.0 L199.8,431.5 L197.9,428.0Z" fill="#2323fa"/>
<path d="M239.3,425.3 L241.0,423.7 L243.4,425.3 L245.0,430.2 L245.8,436.7 L245.0,444.8 L242.6,446.4 L241.0,443.2 L239.7,436.7Z" fill="#2323fa"/>
<path d="M261.2,388.0 L261.2,390.1 L262.1,397.7 L263.7,404.2 L265.3,409.1 L266.9,412.3 L268.5,410.7 L271.0,409.1 L273.4,409.9 L275.9,409.1 L278.3,410.7 L279.9,412.3 L281.5,407.5 L283.2,404.2 L285.6,403.4 L287.7,401.8 L288.0,390.1 L288.0,388.0Z" fill="#ffbebe"/>
<path d="M187.0,391.0 L231.0,391.0 L231.0,425.0 L246.0,427.0 L246.0,473.0 L184.0,473.0 L184.0,430.0Z" fill="url(#dots6)"/>
<path d="M109.2,392.1 L122.9,392.1 L122.9,401.8 L109.2,401.8Z" fill="url(#dots6)"/>
<path d="M85.9,420.5 L94.5,420.5 L94.5,456.2 L85.9,456.2Z" fill="url(#dots6)"/>
</g>
<line x1="114.7" y1="390.2" x2="114.7" y2="472.79999999999995" stroke="#959595" stroke-width="1" stroke-dasharray="2.6,1.4" stroke-dashoffset="1.2"/>
<line x1="144.4" y1="390.2" x2="144.4" y2="472.79999999999995" stroke="#959595" stroke-width="1" stroke-dasharray="2.6,1.4" stroke-dashoffset="1.2"/>
<line x1="174.1" y1="390.2" x2="174.1" y2="472.79999999999995" stroke="#959595" stroke-width="1" stroke-dasharray="2.6,1.4" stroke-dashoffset="1.2"/>
<line x1="200.9" y1="390.2" x2="200.9" y2="472.79999999999995" stroke="#959595" stroke-width="1" stroke-dasharray="2.6,1.4" stroke-dashoffset="1.2"/>
<line x1="230.6" y1="390.2" x2="230.6" y2="472.79999999999995" stroke="#959595" stroke-width="1" stroke-dasharray="2.6,1.4" stroke-dashoffset="1.2"/>
<line x1="259.3" y1="390.2" x2="259.3" y2="472.79999999999995" stroke="#959595" stroke-width="1" stroke-dasharray="2.6,1.4" stroke-dashoffset="1.2"/>
<rect x="86.0" y="390.2" width="203.0" height="82.6" fill="none" stroke="#a8a8a8" stroke-width="1"/>
<text x="81.0" y="394.3" font-size="11.5" text-anchor="end" fill="#1a1a1a" stroke="#1a1a1a" stroke-width="0.25">10</text>
<text x="81.0" y="435.6" font-size="11.5" text-anchor="end" fill="#1a1a1a" stroke="#1a1a1a" stroke-width="0.25">50</text>
<line x1="86.0" y1="431.5" x2="88.0" y2="431.5" stroke="#a8a8a8"/>
<text x="81.0" y="453.4" font-size="11.5" text-anchor="end" fill="#1a1a1a" stroke="#1a1a1a" stroke-width="0.25">100</text>
<line x1="86.0" y1="449.3" x2="88.0" y2="449.3" stroke="#a8a8a8"/>
<text x="81.0" y="476.9" font-size="11.5" text-anchor="end" fill="#1a1a1a" stroke="#1a1a1a" stroke-width="0.25">250</text>
<text x="86.0" y="486.8" font-size="11.5" text-anchor="middle" fill="#1a1a1a" stroke="#1a1a1a" stroke-width="0.25">Nov</text>
<text x="114.7" y="486.8" font-size="11.5" text-anchor="middle" fill="#1a1a1a" stroke="#1a1a1a" stroke-width="0.25">Dec</text>
<text x="144.4" y="486.8" font-size="11.5" text-anchor="middle" fill="#1a1a1a" stroke="#1a1a1a" stroke-width="0.25">Jan</text>
<text x="174.1" y="486.8" font-size="11.5" text-anchor="middle" fill="#1a1a1a" stroke="#1a1a1a" stroke-width="0.25">Feb</text>
<text x="200.9" y="486.8" font-size="11.5" text-anchor="middle" fill="#1a1a1a" stroke="#1a1a1a" stroke-width="0.25">Mar</text>
<text x="230.6" y="486.8" font-size="11.5" text-anchor="middle" fill="#1a1a1a" stroke="#1a1a1a" stroke-width="0.25">Apr</text>
<text x="259.3" y="486.8" font-size="11.5" text-anchor="middle" fill="#1a1a1a" stroke="#1a1a1a" stroke-width="0.25">May</text>
<text x="289.0" y="486.8" font-size="11.5" text-anchor="middle" fill="#1a1a1a" stroke="#1a1a1a" stroke-width="0.25">Jun</text>
<text x="0" y="0" transform="translate(58.4,432.3) rotate(-90)" font-size="13.4" text-anchor="middle" fill="#1a1a1a" stroke="#1a1a1a" stroke-width="0.25">Pressure(hPa)</text>
<text x="86.0" y="387.2" font-size="11.5" fill="#1a1a1a" stroke="#1a1a1a" stroke-width="0.25">(g) Strong LN</text>
<text x="288.5" y="387.59999999999997" font-size="11.2" text-anchor="end" fill="#1a1a1a" stroke="#1a1a1a" stroke-width="0.25">42</text>
<g clip-path="url(#cp7)">
<path d="M347.6,388.0 L347.6,390.1 L348.1,404.2 L348.6,420.5 L349.2,435.1 L349.9,420.5 L350.4,404.2 L350.8,390.1 L350.8,388.0Z" fill="#c3c3fa"/>
<path d="M367.9,399.4 L369.0,400.2 L370.0,412.3 L370.3,428.6 L370.0,444.8 L369.0,461.0 L367.9,474.0 L366.3,474.0 L365.1,465.9 L364.6,452.9 L364.8,436.7 L365.5,420.5 L366.3,407.5 L367.1,401.0Z" fill="#c3c3fa"/>
<path d="M382.2,388.0 L382.2,390.1 L382.5,404.2 L383.0,420.5 L384.1,430.2 L385.3,431.0 L386.2,420.5 L386.9,404.2 L387.0,390.1 L387.0,388.0Z" fill="#c3c3fa"/>
<path d="M400.3,388.0 L400.3,390.1 L400.8,404.2 L401.5,420.5 L402.5,433.4 L403.6,444.8 L405.2,452.9 L400.8,433.4 L402.4,444.8 L404.1,452.9 L405.7,456.2 L407.3,449.7 L408.9,452.9 L410.5,461.0 L412.2,464.3 L413.8,459.4 L415.4,456.2 L417.0,459.4 L418.7,457.8 L420.3,455.3 L421.9,456.2 L423.5,457.8 L426.0,462.6 L428.4,464.3 L430.8,461.0 L433.3,462.6 L435.7,465.1 L438.1,462.6 L440.2,457.8 L441.4,449.7 L442.5,439.9 L443.8,428.6 L445.4,428.6 L447.1,433.4 L448.7,441.5 L450.3,452.9 L451.9,464.3 L453.5,469.1 L456.0,467.5 L458.4,464.3 L461.7,462.6 L463.2,474.0 L464.1,464.3 L466.5,462.6 L468.9,464.3 L471.4,474.0 L476.2,474.0 L477.8,467.5 L481.1,467.5 L481.9,474.0 L498.1,474.0 L498.9,469.1 L500.6,464.3 L502.2,462.6 L503.8,465.9 L505.4,464.3 L507.1,461.0 L507.9,436.7 L507.5,404.2 L507.4,388.0Z" fill="#c3c3fa"/>
<path d="M408.9,388.0 L408.9,390.1 L409.4,404.2 L410.1,420.5 L410.5,427.8 L412.2,426.9 L413.8,425.3 L415.4,426.9 L417.0,426.1 L418.7,426.9 L420.3,425.3 L422.7,426.9 L424.3,431.0 L426.8,432.6 L429.2,433.4 L431.6,432.6 L434.1,433.4 L436.5,431.8 L438.9,428.6 L441.4,426.9 L443.0,420.5 L443.8,404.2 L444.1,390.1 L444.1,388.0Z" fill="#8c8cfa"/>
<path d="M451.1,388.0 L451.1,390.1 L451.6,404.2 L452.7,420.5 L455.2,426.9 L456.8,430.2 L459.2,441.5 L460.9,446.4 L462.5,449.7 L464.1,446.4 L465.7,441.5 L467.3,438.3 L469.0,431.8 L469.8,428.6 L471.4,431.8 L473.0,436.7 L474.6,443.2 L476.3,448.0 L477.9,449.7 L460.0,439.9 L462.4,436.7 L464.9,433.4 L466.5,428.6 L467.8,423.7 L468.9,433.4 L470.5,441.5 L473.0,449.7 L475.4,451.3 L477.8,449.7 L480.3,444.8 L481.9,444.0 L484.3,446.4 L487.6,447.2 L490.8,446.4 L493.3,444.0 L495.7,444.8 L498.1,443.2 L499.3,436.7 L499.8,420.5 L499.8,390.1 L499.8,388.0Z" fill="#8c8cfa"/>
<path d="M465.7,388.0 L465.7,390.1 L466.2,404.2 L466.8,420.5 L467.3,430.2 L468.1,436.7 L468.9,430.2 L469.4,412.3 L469.7,390.1 L469.7,388.0Z" fill="#c3c3fa"/>
<path d="M423.5,388.0 L423.5,390.1 L424.3,401.0 L426.0,407.5 L427.6,405.8 L428.9,397.7 L430.0,404.2 L431.2,414.0 L432.5,415.6 L434.1,409.1 L435.7,404.2 L437.3,409.1 L438.9,404.2 L439.8,390.1 L439.8,388.0Z" fill="#2323fa"/>
<path d="M458.4,388.0 L458.4,390.1 L459.2,404.2 L460.4,417.2 L462.0,425.3 L463.3,426.9 L464.6,420.5 L465.7,409.1 L466.5,390.1 L466.5,388.0Z" fill="#2323fa"/>
<path d="M472.2,388.0 L472.2,390.1 L472.7,404.2 L473.8,417.2 L475.4,424.5 L477.0,422.9 L478.7,417.2 L480.3,410.7 L481.1,405.8 L481.9,409.1 L482.7,414.0 L483.5,410.7 L485.2,404.2 L486.8,397.7 L487.9,390.1 L487.9,388.0Z" fill="#2323fa"/>
<path d="M410.6,388.0 L410.6,390.1 L410.9,394.5 L411.7,397.7 L412.5,394.5 L413.0,390.1 L413.0,388.0Z" fill="#2323fa"/>
<path d="M364.6,440.0 L368.0,440.0 L368.0,469.0 L364.6,469.0Z" fill="url(#dots7)"/>
<path d="M425.0,430.0 L439.0,430.0 L439.0,459.0 L425.0,459.0Z" fill="url(#dots7)"/>
<path d="M458.0,427.0 L460.0,393.0 L500.0,393.0 L500.0,469.0 L458.0,469.0Z" fill="url(#dots7)"/>
<path d="M409.0,445.0 L412.0,445.0 L412.0,465.0 L409.0,465.0Z" fill="url(#dots7)"/>
<path d="M522.5,440.0 L526.5,440.0 L526.5,469.0 L522.5,469.0Z" fill="url(#dots7)"/>
</g>
<line x1="364.2" y1="390.2" x2="364.2" y2="472.79999999999995" stroke="#959595" stroke-width="1" stroke-dasharray="2.6,1.4" stroke-dashoffset="1.2"/>
<line x1="393.9" y1="390.2" x2="393.9" y2="472.79999999999995" stroke="#959595" stroke-width="1" stroke-dasharray="2.6,1.4" stroke-dashoffset="1.2"/>
<line x1="423.6" y1="390.2" x2="423.6" y2="472.79999999999995" stroke="#959595" stroke-width="1" stroke-dasharray="2.6,1.4" stroke-dashoffset="1.2"/>
<line x1="450.4" y1="390.2" x2="450.4" y2="472.79999999999995" stroke="#959595" stroke-width="1" stroke-dasharray="2.6,1.4" stroke-dashoffset="1.2"/>
<line x1="480.1" y1="390.2" x2="480.1" y2="472.79999999999995" stroke="#959595" stroke-width="1" stroke-dasharray="2.6,1.4" stroke-dashoffset="1.2"/>
<line x1="508.8" y1="390.2" x2="508.8" y2="472.79999999999995" stroke="#959595" stroke-width="1" stroke-dasharray="2.6,1.4" stroke-dashoffset="1.2"/>
<rect x="335.5" y="390.2" width="203.0" height="82.6" fill="none" stroke="#a8a8a8" stroke-width="1"/>
<text x="330.5" y="394.3" font-size="11.5" text-anchor="end" fill="#1a1a1a" stroke="#1a1a1a" stroke-width="0.25">10</text>
<text x="330.5" y="435.6" font-size="11.5" text-anchor="end" fill="#1a1a1a" stroke="#1a1a1a" stroke-width="0.25">50</text>
<line x1="335.5" y1="431.5" x2="337.5" y2="431.5" stroke="#a8a8a8"/>
<text x="330.5" y="453.4" font-size="11.5" text-anchor="end" fill="#1a1a1a" stroke="#1a1a1a" stroke-width="0.25">100</text>
<line x1="335.5" y1="449.3" x2="337.5" y2="449.3" stroke="#a8a8a8"/>
<text x="330.5" y="476.9" font-size="11.5" text-anchor="end" fill="#1a1a1a" stroke="#1a1a1a" stroke-width="0.25">250</text>
<text x="335.5" y="486.8" font-size="11.5" text-anchor="middle" fill="#1a1a1a" stroke="#1a1a1a" stroke-width="0.25">Nov</text>
<text x="364.2" y="486.8" font-size="11.5" text-anchor="middle" fill="#1a1a1a" stroke="#1a1a1a" stroke-width="0.25">Dec</text>
<text x="393.9" y="486.8" font-size="11.5" text-anchor="middle" fill="#1a1a1a" stroke="#1a1a1a" stroke-width="0.25">Jan</text>
<text x="423.6" y="486.8" font-size="11.5" text-anchor="middle" fill="#1a1a1a" stroke="#1a1a1a" stroke-width="0.25">Feb</text>
<text x="450.4" y="486.8" font-size="11.5" text-anchor="middle" fill="#1a1a1a" stroke="#1a1a1a" stroke-width="0.25">Mar</text>
<text x="480.1" y="486.8" font-size="11.5" text-anchor="middle" fill="#1a1a1a" stroke="#1a1a1a" stroke-width="0.25">Apr</text>
<text x="508.8" y="486.8" font-size="11.5" text-anchor="middle" fill="#1a1a1a" stroke="#1a1a1a" stroke-width="0.25">May</text>
<text x="538.5" y="486.8" font-size="11.5" text-anchor="middle" fill="#1a1a1a" stroke="#1a1a1a" stroke-width="0.25">Jun</text>
<text x="335.5" y="387.2" font-size="11.5" fill="#1a1a1a" stroke="#1a1a1a" stroke-width="0.25">(h) Moderate LN</text>
<text x="538.0" y="387.59999999999997" font-size="11.2" text-anchor="end" fill="#1a1a1a" stroke="#1a1a1a" stroke-width="0.25">122</text>
<text x="0" y="0" transform="translate(22.3,85.45) rotate(-90)" font-size="21" text-anchor="middle" fill="#1a1a1a">HT</text>
<text x="0" y="0" transform="translate(22.3,161.2) rotate(-90)" font-size="21" text-anchor="middle" fill="#1a1a1a">CMIP6</text>
<text x="0" y="0" transform="translate(22.3,332.59999999999997) rotate(-90)" font-size="21" text-anchor="middle" fill="#1a1a1a">LT</text>
<text x="0" y="0" transform="translate(22.3,406.4) rotate(-90)" font-size="21" text-anchor="middle" fill="#1a1a1a">CMIP6</text>
<rect x="74.60" y="493.8" width="51.86" height="6.60" fill="#0000a5"/>
<rect x="126.16" y="493.8" width="51.86" height="6.60" fill="#2323fa"/>
<rect x="177.71" y="493.8" width="51.86" height="6.60" fill="#8c8cfa"/>
<rect x="229.27" y="493.8" width="51.86" height="6.60" fill="#c3c3fa"/>
<rect x="332.38" y="493.8" width="51.86" height="6.60" fill="#ffbebe"/>
<rect x="383.93" y="493.8" width="51.86" height="6.60" fill="#ff8c8c"/>
<rect x="435.49" y="493.8" width="51.86" height="6.60" fill="#fa2323"/>
<rect x="487.04" y="493.8" width="51.86" height="6.60" fill="#be0000"/>
<rect x="74.6" y="493.8" width="464.0" height="6.60" fill="none" stroke="#a0a0a0" stroke-width="0.8"/>
<text x="126.2" y="512" font-size="11.5" text-anchor="middle" fill="#1a1a1a" stroke="#1a1a1a" stroke-width="0.25">−200</text>
<text x="177.7" y="512" font-size="11.5" text-anchor="middle" fill="#1a1a1a" stroke="#1a1a1a" stroke-width="0.25">−100</text>
<text x="229.3" y="512" font-size="11.5" text-anchor="middle" fill="#1a1a1a" stroke="#1a1a1a" stroke-width="0.25">−60</text>
<text x="280.8" y="512" font-size="11.5" text-anchor="middle" fill="#1a1a1a" stroke="#1a1a1a" stroke-width="0.25">−30</text>
<text x="332.4" y="512" font-size="11.5" text-anchor="middle" fill="#1a1a1a" stroke="#1a1a1a" stroke-width="0.25">30</text>
<text x="383.9" y="512" font-size="11.5" text-anchor="middle" fill="#1a1a1a" stroke="#1a1a1a" stroke-width="0.25">60</text>
<text x="435.5" y="512" font-size="11.5" text-anchor="middle" fill="#1a1a1a" stroke="#1a1a1a" stroke-width="0.25">100</text>
<text x="487.0" y="512" font-size="11.5" text-anchor="middle" fill="#1a1a1a" stroke="#1a1a1a" stroke-width="0.25">200</text>
<text x="306.6" y="523" font-size="11.5" text-anchor="middle" fill="#1a1a1a" stroke="#1a1a1a" stroke-width="0.25">(gpm)</text>
</svg></body></html>
